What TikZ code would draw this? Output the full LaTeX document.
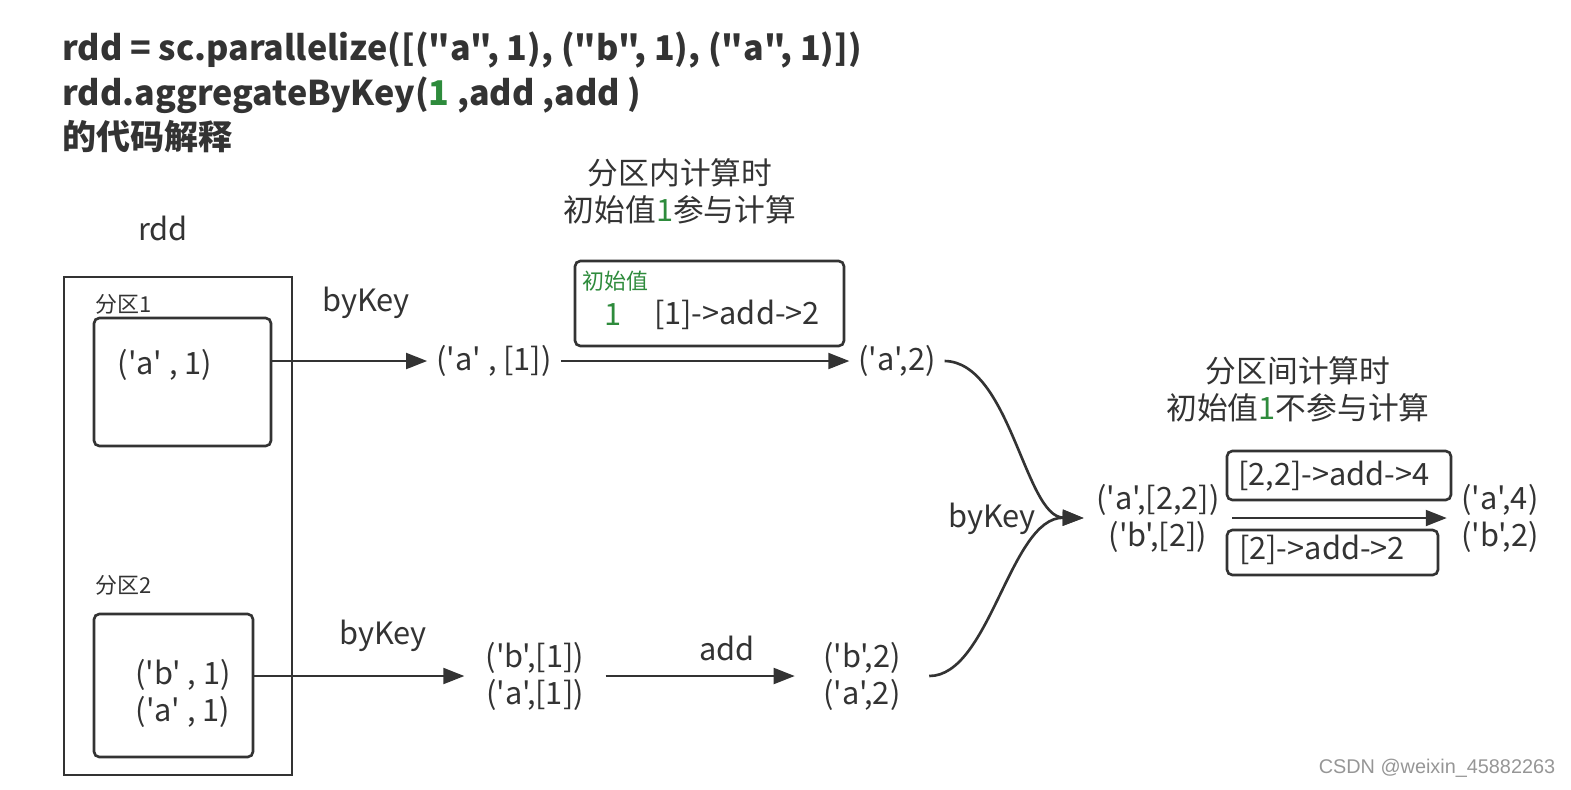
\documentclass[tikz,border=0pt]{standalone}
\usepackage{fontspec}
\setmainfont[Ligatures=TeXOff]{Noto Sans CJK SC}
\newfontfamily\markfont{Liberation Sans}
\usepackage{xcolor}
\usetikzlibrary{arrows.meta,positioning}
\definecolor{ink}{RGB}{51,51,51}
\definecolor{initgreen}{RGB}{46,139,60}
\definecolor{markgray}{RGB}{150,150,150}

\begin{document}
\begin{tikzpicture}[x=0.02cm,y=-0.02cm,>={Triangle[length=12pt,width=9pt]},
     lbl/.style={font=\fontsize{17.5}{21}\selectfont,text=ink,inner xsep=5pt,inner ysep=1pt,align=center},
     tag/.style={font=\fontsize{12.5}{14}\selectfont,text=ink,inner sep=0pt,anchor=west},
     head/.style={font=\fontsize{19.4}{25}\selectfont\bfseries,text=ink,inner sep=0pt,anchor=west},
     part/.style={draw=ink,line width=1.5pt,rounded corners=3pt},
     flow/.style={->,draw=ink,line width=1.5pt}]
    \useasboundingbox (0,0) rectangle (1571,789);
    % code lines
    \node[head] (code1) at (62,50) {rdd = sc.parallelize([("a", 1), ("b", 1), ("a", 1)])};
    \node[head] (code2) at (62,95) {rdd.aggregateByKey({\color{initgreen}1} ,add ,add )};
    \node[head] (code3) at (62,137) {的代码解释};
    % rdd with two partitions
    \node[lbl] (rddlbl) at (163,228) {rdd};
    \node[draw=ink,line width=1.5pt,minimum width=4.56cm,minimum height=9.96cm] (rddbox) at (178,526) {};
    \node[tag] (p1tag) at (95,304) {分区1};
    \node[part,minimum width=3.54cm,minimum height=2.56cm] (p1) at (182.5,382) {};
    \node[lbl] (p1data) at (165,365) {('a' , 1)};
    \node[tag] (p2tag) at (95,585) {分区2};
    \node[part,minimum width=3.18cm,minimum height=2.86cm] (p2) at (173.5,685.5) {};
    \node[lbl] (p2data) at (183,693) {('b' , 1)\\('a' , 1)};
    % within partitions
    \node[lbl] (within) at (680,191) {分区内计算时\\初始值{\color{initgreen}1}参与计算};
    \node[part,minimum width=5.38cm,minimum height=1.7cm] (initbox) at (709.5,303.5) {};
    \node[tag,text=initgreen] (inittag) at (582,281) {初始值};
    \node[lbl,text=initgreen] (initone) at (613,315) {1};
    \node[lbl] (initcalc) at (737,315) {[1]->add->2};
    \node[lbl] (a1) at (494,361) {('a' , [1])};
    \node[lbl] (a2) at (897,361) {('a',2)};
    \node[lbl,inner xsep=12pt] (b1) at (535,676) {('b',[1])\\('a',[1])};
    \node[lbl,inner xsep=16pt] (b2) at (862,676) {('b',2)\\('a',2)};
    \node[lbl] (key1) at (366,303) {byKey};
    \node[lbl] (key2) at (383,636) {byKey};
    \node[lbl] (addlbl) at (727,648) {add};
    \draw[flow] (p1.east |- a1.west) -- (a1.west);
    \draw[flow] (a1.east) -- (a2.west);
    \draw[flow] (p2.east |- b1.west) -- (b1.west);
    \draw[flow] (b1.east) -- (b2.west);
    % between partitions
    \node[lbl] (between) at (1298,389) {分区间计算时\\初始值{\color{initgreen}1}不参与计算};
    \node[lbl,inner xsep=7pt] (m) at (1158,518) {('a',[2,2])\\('b',[2])};
    \node[lbl,inner xsep=8pt] (r) at (1500,518) {('a',4)\\('b',2)};
    \node[lbl] (key3) at (992,519) {byKey};
    \node[part,minimum width=4.48cm,minimum height=0.98cm] (sumbox1) at (1339,475.5) {};
    \node[lbl] (sum1) at (1334,476) {[2,2]->add->4};
    \node[part,minimum width=4.22cm,minimum height=0.9cm] (sumbox2) at (1332.5,552.5) {};
    \node[lbl] (sum2) at (1322,550) {[2]->add->2};
    \draw[flow] (a2.east) .. controls (1010,362) and (1025,517) .. (m.west);
    \draw[flow] (b2.east) .. controls (990,676) and (1010,517) .. (m.west);
    \draw[flow] (m.east) -- (r.west);
    % watermark
    \node[font=\markfont\fontsize{11.3}{13}\selectfont,text=markgray,inner sep=0pt] (mark) at (1437,768) {CSDN @weixin\_45882263};
  \end{tikzpicture}
\end{document}
